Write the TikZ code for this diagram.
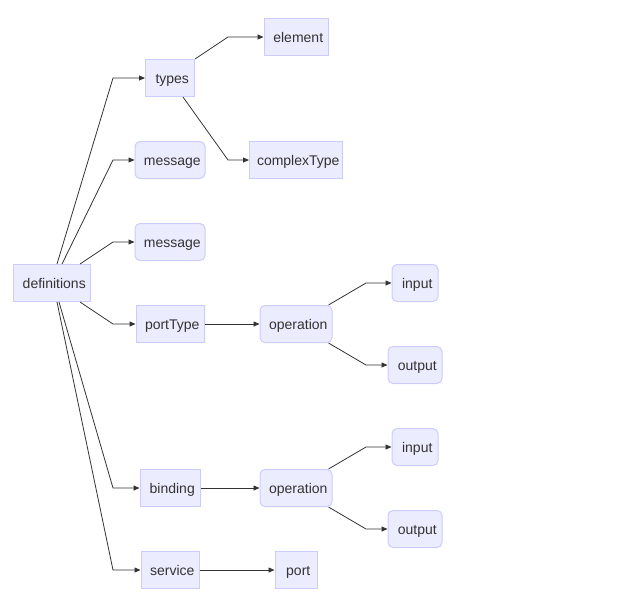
\documentclass[tikz,border=0pt]{standalone}
\usepackage{fontspec}
\setmainfont{Liberation Sans}
\usetikzlibrary{arrows.meta}
\definecolor{nodefill}{HTML}{ECECFF}
\definecolor{nodeline}{HTML}{CCCCFF}
\definecolor{edgecol}{HTML}{333333}
\newcommand{\nodetxt}[1]{\hspace*{4.5pt}#1}
\tikzset{
  box/.style={draw=nodeline, fill=nodefill, line width=1pt, minimum height=37pt, inner sep=0pt, text height=11pt, text depth=1pt, text=edgecol, font=\fontsize{14pt}{16pt}\selectfont},
  rbox/.style={box, rounded corners=5pt},
  conn/.style={draw=edgecol, line width=0.8pt, -{Triangle[length=6pt,width=5pt]}},
}
\begin{document}
\begin{tikzpicture}[x=1pt,y=-1pt]
\useasboundingbox (0,0) rectangle (644,606);
\node[box, minimum width=77pt] (def) at (52,283) {\nodetxt{definitions}};
\node[box, minimum width=49pt] (types) at (170,78) {\nodetxt{types}};
\node[rbox, minimum width=70pt] (msg1) at (170,160) {\nodetxt{message}};
\node[rbox, minimum width=70pt] (msg2) at (170,242) {\nodetxt{message}};
\node[box, minimum width=68pt] (pt) at (170,324) {\nodetxt{portType}};
\node[box, minimum width=60pt] (bind) at (170,488) {\nodetxt{binding}};
\node[box, minimum width=58pt] (svc) at (170,570) {\nodetxt{service}};
\node[box, minimum width=64pt] (elem) at (296,37) {\nodetxt{element}};
\node[box, minimum width=93pt] (ctype) at (296,160) {\nodetxt{complexType}};
\node[rbox, minimum width=72pt] (op1) at (296,324) {\nodetxt{operation}};
\node[rbox, minimum width=72pt] (op2) at (296,488) {\nodetxt{operation}};
\node[box, minimum width=42pt] (port) at (296,570) {\nodetxt{port}};
\node[rbox, minimum width=46pt] (in1) at (415,283) {\nodetxt{input}};
\node[rbox, minimum width=54pt] (out1) at (415,365) {\nodetxt{output}};
\node[rbox, minimum width=46pt] (in2) at (415,447) {\nodetxt{input}};
\node[rbox, minimum width=54pt] (out2) at (415,529) {\nodetxt{output}};
% edges from definitions
\draw[conn] ([xshift=5pt]def.north) -- (113,78) -- (types.west);
\draw[conn] ([xshift=10pt]def.north) -- (113,160) -- (msg1.west);
\draw[conn] ([xshift=28pt]def.north) -- (113,242) -- (msg2.west);
\draw[conn] ([xshift=28pt]def.south) -- (113,324) -- (pt.west);
\draw[conn] ([xshift=7pt]def.south) -- (113,488) -- (bind.west);
\draw[conn] ([xshift=5pt]def.south) -- (113,570) -- (svc.west);
% types
\draw[conn] (types.north east) -- (228,37) -- (elem.west);
\draw[conn] ([xshift=13pt]types.south) -- (228,160) -- (ctype.west);
% straight
\draw[conn] (pt.east) -- (op1.west);
\draw[conn] (bind.east) -- (op2.west);
\draw[conn] (svc.east) -- (port.west);
% operations
\draw[conn] ([xshift=-4pt]op1.north east) -- (366,283) -- (in1.west);
\draw[conn] ([xshift=-4pt]op1.south east) -- (366,365) -- (out1.west);
\draw[conn] ([xshift=-4pt]op2.north east) -- (366,447) -- (in2.west);
\draw[conn] ([xshift=-4pt]op2.south east) -- (366,529) -- (out2.west);
\end{tikzpicture}
\end{document}
